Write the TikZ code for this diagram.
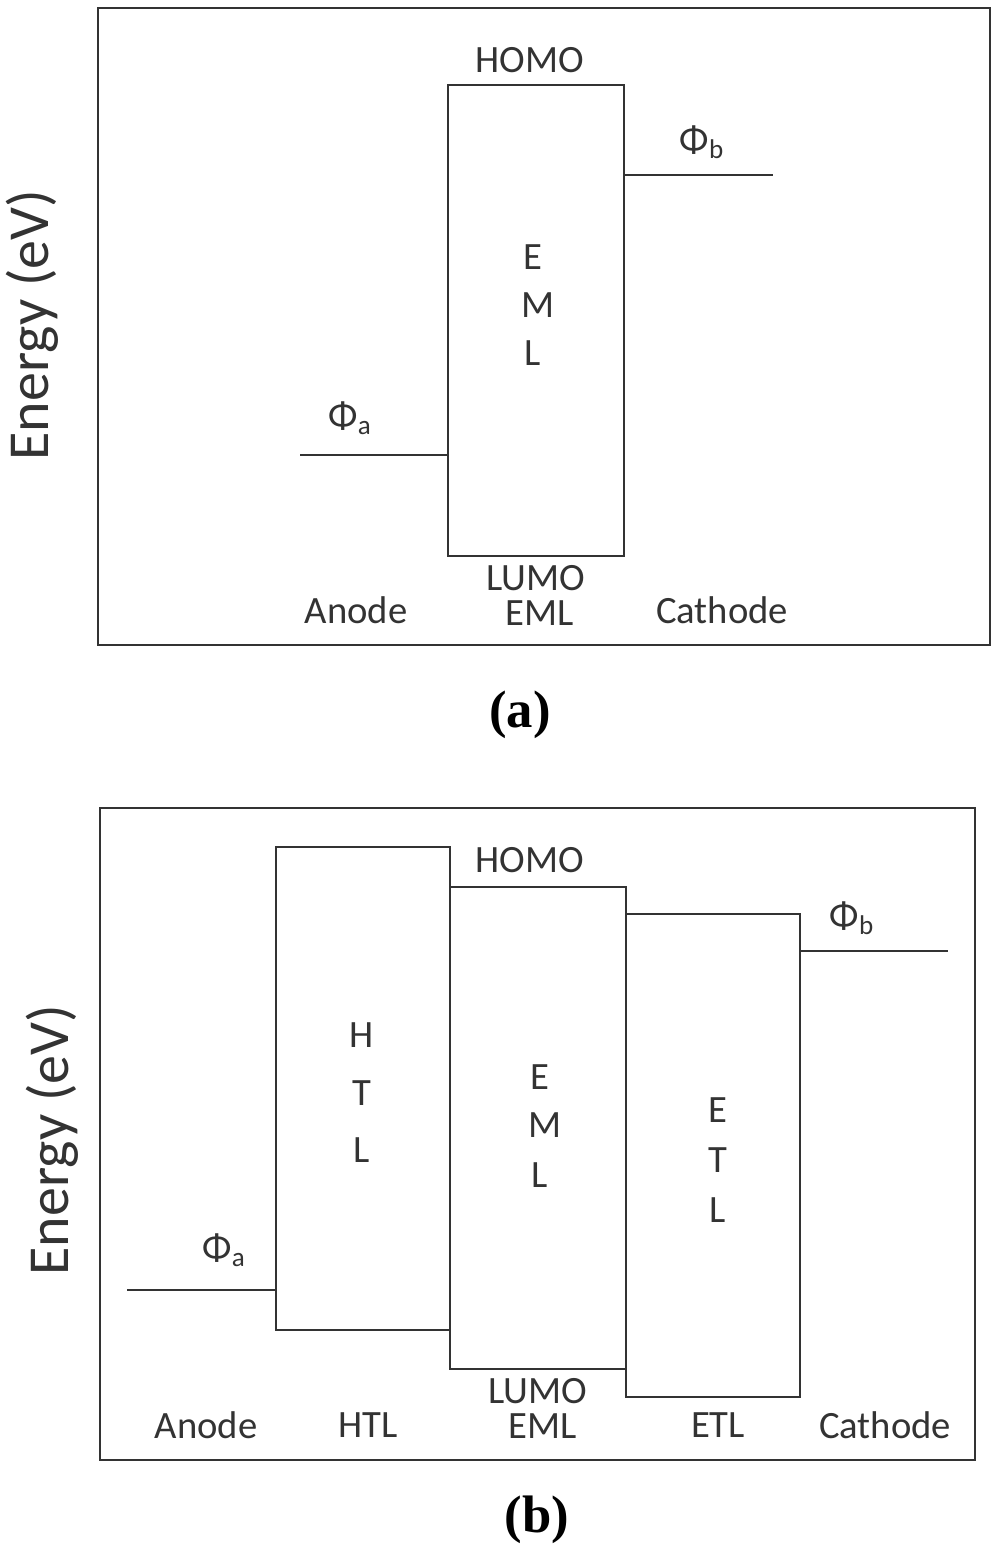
\documentclass[tikz,border=0pt]{standalone}
\usepackage{fontspec}
\setmainfont{Carlito}
\newfontfamily\capfont{Liberation Serif}
\begin{document}
\begin{tikzpicture}[x=0.02cm,y=-0.02cm,
  ln/.style={line width=1.3pt,color=black!80},
  txt/.style={font=\fontsize{22}{26}\selectfont,text=black!80,inner sep=0pt},
  elab/.style={font=\fontsize{33}{38}\selectfont,text=black!80,inner sep=0pt,rotate=90},
  figcap/.style={font=\capfont\bfseries\fontsize{30}{34}\selectfont,inner sep=0pt}]
\useasboundingbox (0,0) rectangle (1000,1553);
% panel a
\draw[ln] (98,8) rectangle (990,645);
\node[elab] (ea) at (32,325) {Energy (eV)};
\draw[ln] (448,85) rectangle (624,556);
\coordinate (ab1) at (624,175); \coordinate (ab2) at (773,175);
\draw[ln] (ab1) -- (ab2);
\coordinate (aa1) at (300,455); \coordinate (aa2) at (448,455);
\draw[ln] (aa1) -- (aa2);
\node[txt] (pb) at (702,142) {Φ\textsubscript{b}};
\node[txt] (pa) at (350,418) {Φ\textsubscript{a}};
\node[txt] (ho) at (530,60) {HOMO};
\node[txt] (e1) at (533,257) {E};
\node[txt] (e2) at (538,305) {M};
\node[txt] (e3) at (533,353) {L};
\node[txt] (lu) at (536,578) {LUMO};
\node[txt] (em) at (540,613) {EML};
\node[txt] (an) at (356,610) {Anode};
\node[txt] (ca) at (722,610) {Cathode};
\node[figcap] (la) at (520,715) {(a)};
% panel b
\draw[ln] (100,808) rectangle (975,1460);
\node[elab] (eb) at (52,1140) {Energy (eV)};
\draw[ln] (276,847) rectangle (450,1330);
\draw[ln] (450,887) rectangle (626,1369);
\draw[ln] (626,914) rectangle (800,1397);
\coordinate (bb1) at (800,951); \coordinate (bb2) at (948,951);
\draw[ln] (bb1) -- (bb2);
\coordinate (ba1) at (127,1290); \coordinate (ba2) at (276,1290);
\draw[ln] (ba1) -- (ba2);
\node[txt] (pbb) at (852,918) {Φ\textsubscript{b}};
\node[txt] (pab) at (224,1250) {Φ\textsubscript{a}};
\node[txt] (hob) at (530,860) {HOMO};
\node[txt] (h1) at (362,1035) {H};
\node[txt] (h2) at (362,1093) {T};
\node[txt] (h3) at (362,1150) {L};
\node[txt] (m1) at (540,1077) {E};
\node[txt] (m2) at (545,1125) {M};
\node[txt] (m3) at (540,1175) {L};
\node[txt] (t1) at (718,1110) {E};
\node[txt] (t2) at (718,1160) {T};
\node[txt] (t3) at (718,1210) {L};
\node[txt] (lub) at (538,1391) {LUMO};
\node[txt] (emb) at (543,1426) {EML};
\node[txt] (anb) at (206,1425) {Anode};
\node[txt] (htb) at (368,1425) {HTL};
\node[txt] (etb) at (718,1425) {ETL};
\node[txt] (cab) at (885,1425) {Cathode};
\node[figcap] (lb) at (537,1520) {(b)};
\end{tikzpicture}
\end{document}
